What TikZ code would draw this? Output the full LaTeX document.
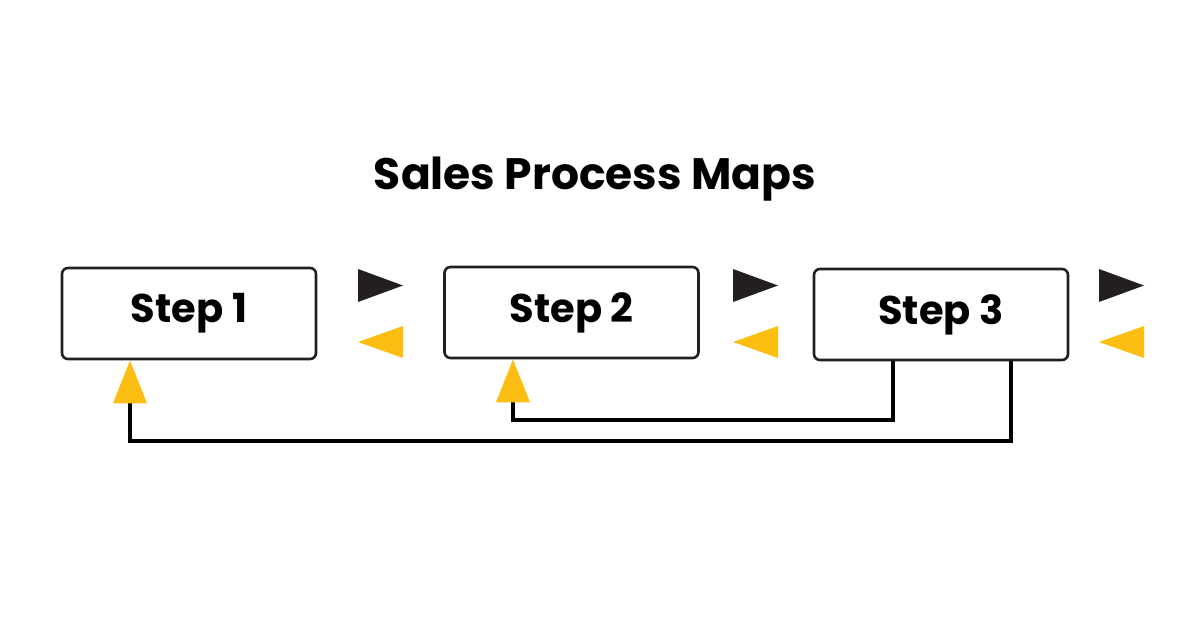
\documentclass[tikz,border=0pt]{standalone}
\usepackage{fontspec}
\setmainfont{Poppins}
\usepackage{tikz}
\usetikzlibrary{arrows.meta,calc}
\definecolor{tipdark}{HTML}{231F20}
\definecolor{tipyellow}{HTML}{FDBE14}
\tikzset{
    stepbox/.style={draw=tipdark, line width=1.3pt, rounded corners=3pt,
        minimum width=127pt, minimum height=45.5pt,
        font=\fontsize{20}{22}\selectfont\bfseries, text=black},
    loopback/.style={draw=black, line width=2pt,
        -{Triangle[color=tipyellow, length=21.5pt, width=16.5pt]}}
}
\begin{document}
\begin{tikzpicture}[x=0.5pt, y=-0.5pt]
    \useasboundingbox (0,0) rectangle (1200,630);
    % 标题
    \node[font=\fontsize{22}{24}\selectfont\bfseries, anchor=base] (title) at (595,190) {Sales Process Maps};
    % 三个步骤
    \node[stepbox] (s1) at (189,313.5) {Step 1};
    \node[stepbox] (s2) at (571.5,312.5) {Step 2};
    \node[stepbox] (s3) at (941,314.5) {Step 3};
    % 前进/后退三角
    \foreach \tx in {358,733,1099} {
        \fill[tipdark] (\tx,269) -- (\tx+45,285.5) -- (\tx,302) -- cycle;
        \fill[tipyellow] (\tx+45,326) -- (\tx,342) -- (\tx+45,358) -- cycle;
    }
    % 回到前面的步骤
    \draw[loopback] ($(s3.south)+(70,0)$) -- ++(0,80) -| ($(s1.south)+(-59,0)$);
    \draw[loopback] ($(s3.south)+(-48,0)$) -- ++(0,59) -| ($(s2.south)+(-58.5,0)$);
\end{tikzpicture}
\end{document}
